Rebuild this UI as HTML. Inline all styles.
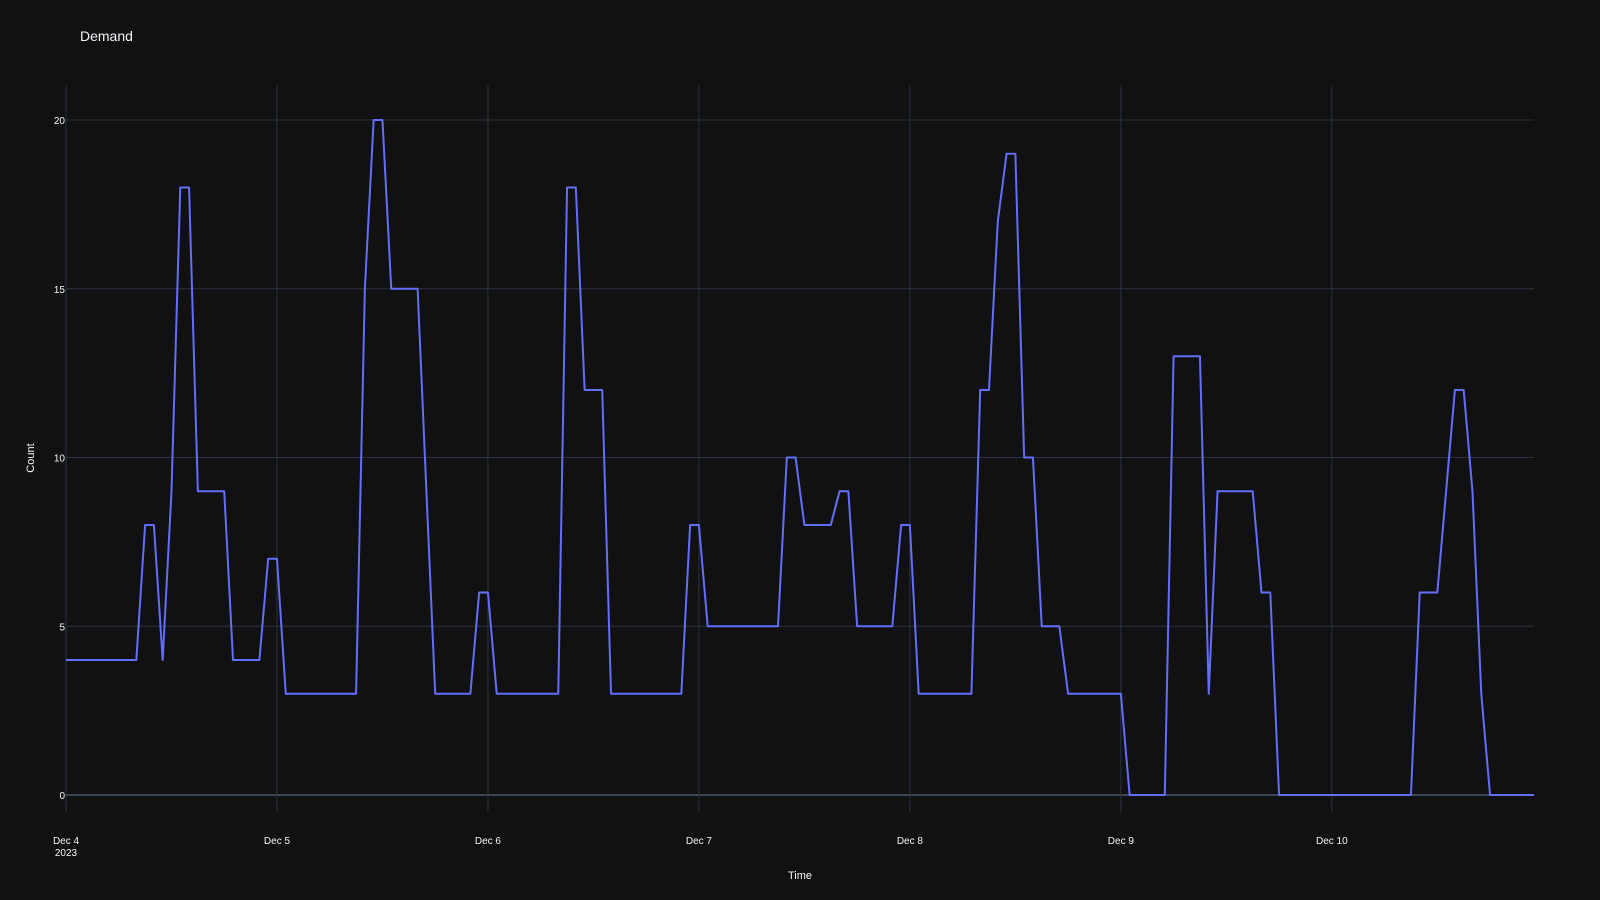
<!DOCTYPE html>
<html><head><meta charset="utf-8"><style>
html,body{margin:0;padding:0;background:#111111;}
svg{display:block;font-family:"Liberation Sans",sans-serif;}
</style></head><body>
<svg id="chart" width="1600" height="900" viewBox="0 0 1600 900">
<rect x="0" y="0" width="1600" height="900" fill="#111111"/>
<text x="80" y="41" fill="#f2f5fa" font-size="14">Demand</text>
<g id="grid"></g>
<g id="yticks"></g>
<g id="xticks"></g>
<path id="line" fill="none" stroke="#636efa" stroke-width="2" stroke-linejoin="round"/>
<text x="34" y="458" fill="#f2f5fa" font-size="11" text-anchor="middle" transform="rotate(-90 34 458)">Count</text>
<text x="800" y="879" fill="#f2f5fa" font-size="11" text-anchor="middle">Time</text>
</svg>
<script>
const counts = [
4,4,4,4,4,4,4,4,4,8,8,4,9,18,18,9,9,9,9,4,4,4,4,7,
7,3,3,3,3,3,3,3,3,3,15,20,20,15,15,15,15,9,3,3,3,3,3,6,
6,3,3,3,3,3,3,3,3,18,18,12,12,12,3,3,3,3,3,3,3,3,3,8,
8,5,5,5,5,5,5,5,5,5,10,10,8,8,8,8,9,9,5,5,5,5,5,8,
8,3,3,3,3,3,3,3,12,12,17,19,19,10,10,5,5,5,3,3,3,3,3,3,
3,0,0,0,0,0,13,13,13,13,3,9,9,9,9,9,6,6,0,0,0,0,0,0,
0,0,0,0,0,0,0,0,0,0,6,6,6,9,12,12,9,3,0,0,0,0,0,0
];
const yTickValues = [0,5,10,15,20];
const xTickLabels = ["Dec 4","Dec 5","Dec 6","Dec 7","Dec 8","Dec 9","Dec 10"];
const xTickHours = [0,24,48,72,96,120,144];

const NS = "http://www.w3.org/2000/svg";
const X0 = 66, X1 = 1534, Y0 = 795, Y20 = 120;
const maxHour = counts.length - 1;
function xs(h){ return X0 + (X1 - X0) * h / maxHour; }
function ys(v){ return Y0 + (Y20 - Y0) * v / 20; }
const grid = document.getElementById('grid');
const yt = document.getElementById('yticks');
const xt = document.getElementById('xticks');
function mk(tag, attrs){ const e = document.createElementNS(NS, tag); for (const k in attrs) e.setAttribute(k, attrs[k]); return e; }

yTickValues.forEach(v => {
  const l = mk('line', {x1: X0, x2: X1, y1: ys(v), y2: ys(v), stroke: v === 0 ? '#3a4654' : '#283442', 'stroke-width': v === 0 ? 2 : 1});
  
  
  grid.appendChild(l);
  const t = mk('text', {x: X0 - 1, y: ys(v) + 4, fill: '#f2f5fa', 'font-size': 10, 'text-anchor': 'end'});
  t.textContent = v;
  
  
  yt.appendChild(t);
});
xTickHours.forEach((h, i) => {
  const l = mk('line', {x1: xs(h), x2: xs(h), y1: 85, y2: 812, stroke: '#283442', 'stroke-width': 1});
  
  
  grid.appendChild(l);
  const t = mk('text', {x: xs(h), y: 844, fill: '#f2f5fa', 'font-size': 10, 'text-anchor': 'middle'});
  t.textContent = xTickLabels[i];
  
  
  xt.appendChild(t);
});
const yr = mk('text', {x: xs(0), y: 856, fill: '#f2f5fa', 'font-size': 10, 'text-anchor': 'middle'});
yr.textContent = '2023';


xt.appendChild(yr);

document.getElementById('line').setAttribute('d', counts.map((v, h) => (h ? 'L' : 'M') + xs(h).toFixed(2) + ',' + ys(v).toFixed(2)).join(' '));
</script>
</body></html>
